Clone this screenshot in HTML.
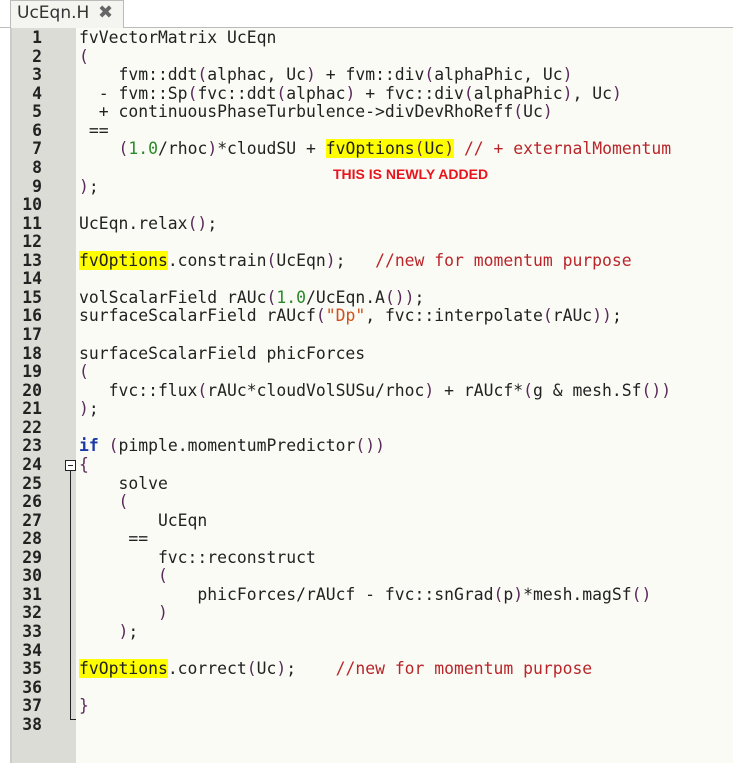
<!DOCTYPE html><html><head><style>
body{margin:0;width:733px;height:763px;background:#fff;overflow:hidden;position:relative;font-family:"DejaVu Sans Mono",monospace}
.tabbar{position:absolute;left:0;top:0;width:733px;height:27px;background:#fff;border-bottom:1px solid #bbb}
.tab{position:absolute;left:10px;top:0;width:112px;height:27px;background:#f4f4f0;border:1px solid #bbb;border-bottom:none;font-family:"DejaVu Sans",sans-serif;font-size:17px;color:#333}
.gut{position:absolute;left:12px;top:28px;width:64px;height:735px;background:#dcdcd7}
.code{position:absolute;left:76px;top:28px;width:657px;height:735px;background:#fbfbf6}
.edge{position:absolute;left:10px;top:28px;width:2px;height:735px;background:#ccc}
pre{margin:0;position:absolute;top:29px;font-size:16.4px;line-height:18.57px;font-family:"DejaVu Sans Mono",monospace}
.nums{left:14px;width:28px;text-align:right;color:#222}
.src{left:79px;color:#222}
.p{color:#5a2a5a}.n{color:#2a8a2a}.c{color:#b8262a}.s{color:#d0501a}.k{color:#1a3aa8;font-weight:bold}
.h{background:#ffff00}
</style></head><body>
<div class="tabbar"><div class="tab"><span style="position:absolute;left:6px;top:2px">UcEqn.H</span><span style="position:absolute;left:87px;top:1px;color:#666;font-size:18px">✖</span></div></div>
<div class="edge"></div><div class="gut"></div><div class="code"></div>
<div style="position:absolute;left:70px;top:468px;width:1px;height:252px;background:#222"></div>
<div style="position:absolute;left:70px;top:719px;width:6px;height:1px;background:#222"></div>
<div style="position:absolute;left:65px;top:460px;width:9px;height:9px;border:1px solid #222;background:#fff"><div style="position:absolute;left:2px;top:4px;width:5px;height:1px;background:#222"></div></div>
<pre class="nums"><b>1
2
3
4
5
6
7
8
9
10
11
12
13
14
15
16
17
18
19
20
21
22
23
24
25
26
27
28
29
30
31
32
33
34
35
36
37
38</b></pre>
<pre class="src">fvVectorMatrix UcEqn
<span class="p">(</span>
    fvm::ddt<span class="p">(</span>alphac, Uc<span class="p">)</span> + fvm::div<span class="p">(</span>alphaPhic, Uc<span class="p">)</span>
  - fvm::Sp<span class="p">(</span>fvc::ddt<span class="p">(</span>alphac<span class="p">)</span> + fvc::div<span class="p">(</span>alphaPhic<span class="p">)</span>, Uc<span class="p">)</span>
  + continuousPhaseTurbulence-&gt;divDevRhoReff<span class="p">(</span>Uc<span class="p">)</span>
 ==
    <span class="p">(</span><span class="n">1.0</span>/rhoc<span class="p">)</span>*cloudSU + <span class="h">fvOptions<span class="p">(</span>Uc<span class="p">)</span></span> <span class="c">// + externalMomentum</span>

<span class="p">)</span>;

UcEqn.relax<span class="p">()</span>;

<span class="h">fvOptions</span>.constrain<span class="p">(</span>UcEqn<span class="p">)</span>;   <span class="c">//new for momentum purpose</span>

volScalarField rAUc<span class="p">(</span><span class="n">1.0</span>/UcEqn.A<span class="p">())</span>;
surfaceScalarField rAUcf<span class="p">(</span><span class="s">"Dp"</span>, fvc::interpolate<span class="p">(</span>rAUc<span class="p">))</span>;

surfaceScalarField phicForces
<span class="p">(</span>
   fvc::flux<span class="p">(</span>rAUc*cloudVolSUSu/rhoc<span class="p">)</span> + rAUcf*<span class="p">(</span>g &amp; mesh.Sf<span class="p">())</span>
<span class="p">)</span>;

<span class="k">if</span> <span class="p">(</span>pimple.momentumPredictor<span class="p">())</span>
<span class="p">{</span>
    solve
    <span class="p">(</span>
        UcEqn
     ==
        fvc::reconstruct
        <span class="p">(</span>
            phicForces/rAUcf - fvc::snGrad<span class="p">(</span>p<span class="p">)</span>*mesh.magSf<span class="p">()</span>
        <span class="p">)</span>
    <span class="p">)</span>;

<span class="h">fvOptions</span>.correct<span class="p">(</span>Uc<span class="p">)</span>;    <span class="c">//new for momentum purpose</span>

<span class="p">}</span>
</pre>
<div style="position:absolute;left:333px;top:166px;font-family:'Liberation Sans',sans-serif;font-weight:bold;font-size:14px;color:#e8141c">THIS IS NEWLY ADDED</div>
</body></html>
